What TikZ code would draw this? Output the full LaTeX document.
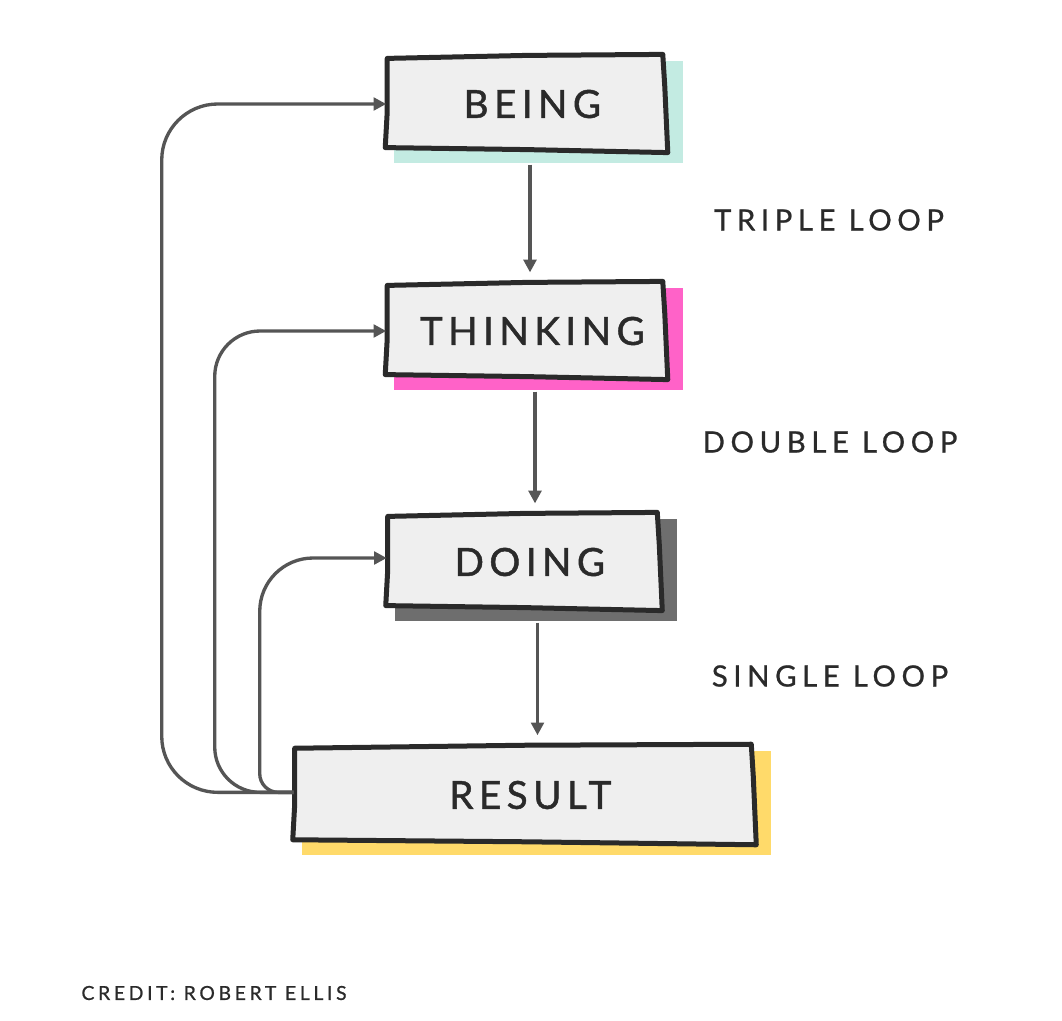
\documentclass[tikz,border=0pt]{standalone}
\usepackage{fontspec}
\usepackage{xcolor}
\usetikzlibrary{calc, positioning, arrows.meta, backgrounds}
\setmainfont{Lato}
\newfontfamily\stagefont[LetterSpace=14, FakeBold=1.2]{Lato}
\newfontfamily\loopfont[LetterSpace=19, FakeBold=0.8]{Lato}

\definecolor{inkdark}{HTML}{2A2A2A}
\definecolor{arrowgray}{HTML}{555555}
\definecolor{boxfill}{HTML}{EFEFEF}
\definecolor{shteal}{HTML}{C3EBE2}
\definecolor{shpink}{HTML}{FF62C8}
\definecolor{shgray}{HTML}{6E6E6E}
\definecolor{shyellow}{HTML}{FFDA6A}

\tikzset{
  stage/.style={minimum height=71pt, inner sep=0pt, text=inkdark,
    font=\stagefont\fontsize{29}{34}\selectfont,
    execute at begin node={\hskip 8pt}},
  boxline/.style={draw=inkdark, fill=boxfill, line width=3.75pt, line join=round},
  flow/.style={->, draw=arrowgray, line width=2.5pt},
  looplabel/.style={text=inkdark, font=\loopfont\fontsize{22}{26}\selectfont},
}

% hand drawn box with offset shadow
\newcommand{\roughbox}[2]{%
  \fill[#2] ([shift={(8,5)}]#1.north west) rectangle ([shift={(15,11)}]#1.south east);
  \path[boxline] ([shift={(1,2)}]#1.north west) -- ([shift={(0,-1)}]#1.north)
    -- ([shift={(-5,-2)}]#1.north east) -- ([shift={(-3,30)}]#1.north east)
    -- ([shift={(0,1)}]#1.south east) -- ([shift={(0,-2)}]#1.south)
    -- ([shift={(-1,-4)}]#1.south west) -- ([shift={(1,-40)}]#1.south west) -- cycle;
}

\begin{document}
\begin{tikzpicture}[x=0.75pt, y=-0.75pt, >={Triangle[length=9.5pt,width=9.5pt]}]
    \useasboundingbox (0,0) rectangle (1062,1020);

    % 1. Stages
    \node[stage, minimum width=210.75pt] (being) at (527,104) {BEING};
    \node[stage, minimum width=210.75pt] (thinking) at (527,331) {THINKING};
    \node[stage, minimum width=206.25pt] (doing) at (524.5,562) {DOING};
    \node[stage, minimum width=346.5pt, minimum height=72.75pt] (result) at (525,795) {RESULT};

    \begin{pgfonlayer}{background}
        \fill[white] (0,0) rectangle (1062,1020);
        \roughbox{being}{shteal}
        \roughbox{thinking}{shpink}
        \roughbox{doing}{shgray}
        \roughbox{result}{shyellow}
    \end{pgfonlayer}

    % 2. Downward arrows
    \draw[flow] ([shift={(3,13)}]being.south) -- ([shift={(3,-11)}]thinking.north);
    \draw[flow] ([shift={(8,13)}]thinking.south) -- ([shift={(10.5,-11)}]doing.north);
    \draw[flow] ([shift={(13,13)}]doing.south) -- ([shift={(12.5,-11)}]result.north);

    % 3. Feedback loops
    \draw[flow, rounded corners=42] ([yshift=2]result.west) -- ++(-132,0) |- (being.west);
    \draw[flow, rounded corners=34] ([yshift=2]result.west) -- ++(-79,0) |- (thinking.west);
    \draw[flow] ([yshift=2]result.west) [rounded corners=14] -- ++(-34,0)
        [rounded corners=40] |- ([yshift=3]doing.west);

    % 4. Labels
    \node[looplabel] (triple) at (829,220) {TRIPLE LOOP};
    \node[looplabel] (double) at (830,442) {DOUBLE LOOP};
    \node[looplabel] (single) at (830,676) {SINGLE LOOP};
    \node[looplabel, font=\loopfont\fontsize{14.5}{17}\selectfont] (credit) at (214,993) {CREDIT: ROBERT ELLIS};
\end{tikzpicture}
\end{document}
